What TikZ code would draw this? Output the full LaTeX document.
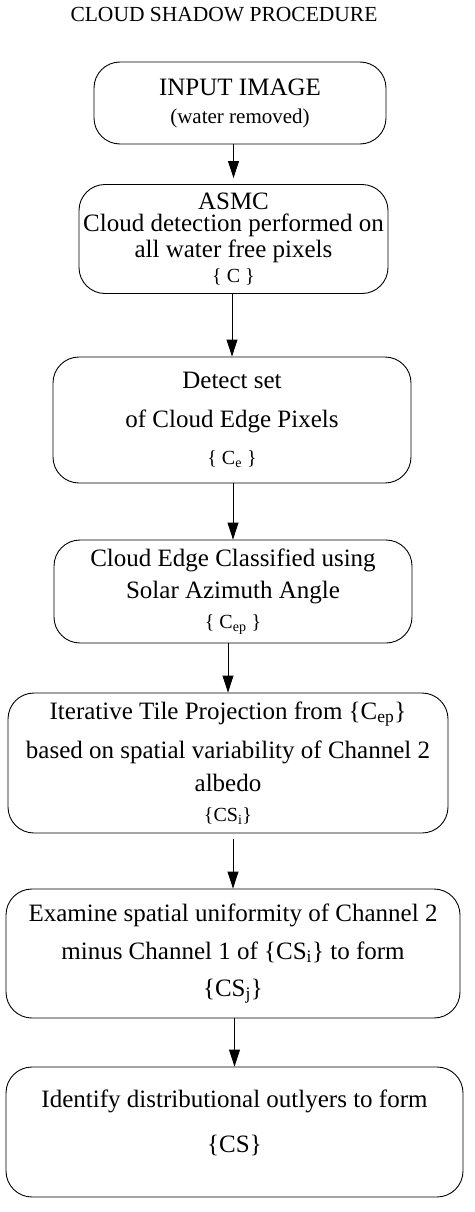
\documentclass[tikz,border=0pt]{standalone}
\usepackage{fontspec}
\setmainfont{Liberation Serif}
\usetikzlibrary{arrows.meta}
\begin{document}
\begin{tikzpicture}[
      x=1pt, y=-1pt,
      stepBox/.style={draw, line width=0.9pt, rounded corners=26pt, align=center, inner sep=0pt,
        font=\fontsize{25}{28}\selectfont},
      titleText/.style={font=\fontsize{21.5}{24}\selectfont, inner sep=0pt, anchor=base},
      flowArrow/.style={line width=0.9pt, -{Triangle[length=17pt,width=11pt]}},
    ]
    \useasboundingbox (0,0) rectangle (474,1212);

    \node[titleText] (title) at (224, 22) {CLOUD SHADOW PROCEDURE};

    \node[stepBox, minimum width=292pt, minimum height=82pt] (input) at (240, 103)
      {INPUT IMAGE\\{\fontsize{21}{24}\selectfont (water removed)}};
    \node[stepBox, minimum width=309pt, minimum height=109pt] (asmc) at (233.5, 239)
      {ASMC\\[-6pt]Cloud detection performed on\\[-2pt]all water free pixels\\[-3pt]{\fontsize{20}{24}\selectfont \{ C \}}};
    \node[stepBox, minimum width=358pt, minimum height=126pt] (edge) at (232, 420)
      {Detect set\\[11pt]of Cloud Edge Pixels\\[9pt]{\fontsize{20}{24}\selectfont \{ C\textsubscript{e} \}}};
    \node[stepBox, minimum width=358pt, minimum height=103pt] (classify) at (233, 591.5)
      {Cloud Edge Classified using\\[4pt]Solar Azimuth Angle\\[2pt]{\fontsize{20}{24}\selectfont \{ C\textsubscript{ep} \}}};
    \node[stepBox, minimum width=440pt, minimum height=140pt] (tile) at (228, 763)
      {Iterative Tile Projection from \{C\textsubscript{ep}\}\\[11pt]based on spatial variability of Channel 2\\[5pt]albedo\\[2pt]{\fontsize{20}{24}\selectfont \{CS\textsubscript{i}\}}};
    \node[stepBox, minimum width=454pt, minimum height=129pt] (uniform) at (233, 953.5)
      {Examine spatial uniformity of Channel 2\\[10pt]minus Channel 1 of \{CS\textsubscript{i}\} to form\\[9pt]\{CS\textsubscript{j}\}};
    \node[stepBox, minimum width=457pt, minimum height=130pt] (outlyer) at (234.5, 1132)
      {Identify distributional outlyers to form\\[17pt]\{CS\}\\[-6pt]\mbox{}};

    \draw[flowArrow, shorten >=6pt] (input.south -| asmc.north) -- (asmc.north);
    \draw[flowArrow] (asmc.south -| edge.north) -- (edge.north);
    \draw[flowArrow] (edge.south -| classify.north) -- (classify.north);
    \draw[flowArrow] (classify.south -| tile.north) -- (tile.north);
    \draw[flowArrow, shorten <=6pt] (tile.south -| uniform.north) -- (uniform.north);
    \draw[flowArrow] (uniform.south -| outlyer.north) -- (outlyer.north);

\end{tikzpicture}
\end{document}
